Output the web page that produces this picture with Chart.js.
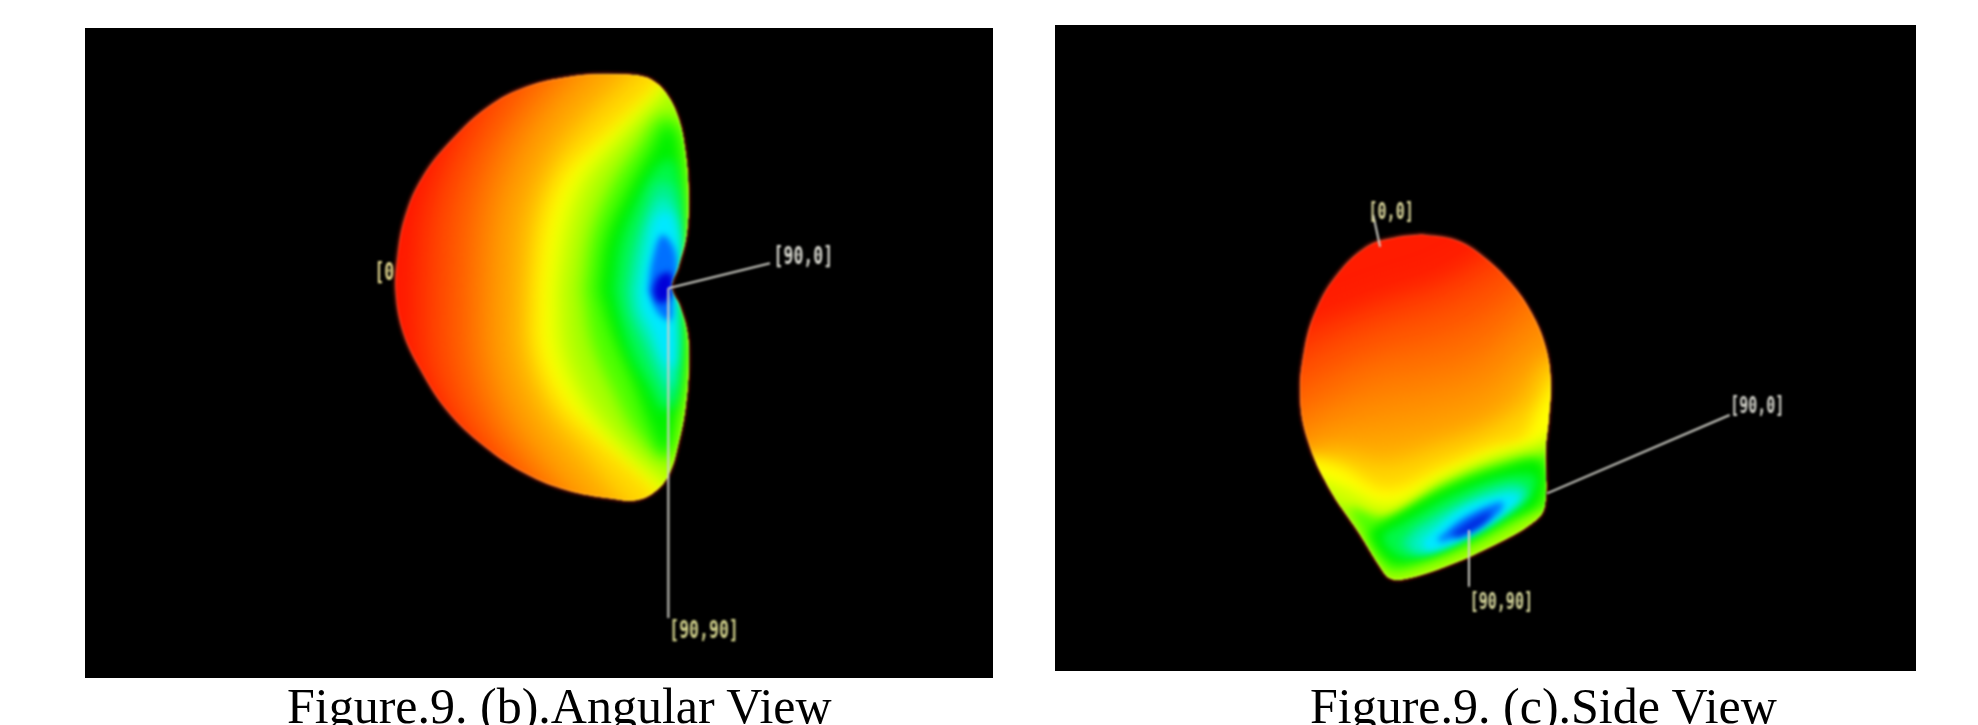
<!DOCTYPE html>
<html><head><meta charset="utf-8">
<script src="https://cdn.jsdelivr.net/npm/chart.js@4"></script>
<style>
html,body{margin:0;padding:0;background:#fff;width:1978px;height:725px;overflow:hidden}
.panel{position:absolute;background:#000}
canvas{position:absolute;left:0;top:0;filter:blur(1px)}
.cap{position:absolute;font-family:"Liberation Serif",serif;font-size:50px;line-height:56px;color:#000;white-space:nowrap}
</style></head><body>
<div class="panel" style="left:85px;top:28px;width:908px;height:650px"><canvas id="b"></canvas></div>
<div class="panel" style="left:1055px;top:25px;width:861px;height:646px"><canvas id="c"></canvas></div>
<div class="cap" style="left:287px;top:678px">Figure.9. (b).Angular View</div>
<div class="cap" style="left:1310px;top:678px">Figure.9. (c).Side View</div>
<script>
/* ---------- Panel (b): Angular view ---------- */
const outlineB=[[860,75],[905,90],[948,130],[985,205],[1005,300],[1015,420],[1010,550],[985,650],[965,712],[990,770],[1012,850],[1016,950],[1005,1080],[985,1180],[960,1265],[920,1320],[860,1350],[780,1345],[650,1320],[530,1272],[405,1190],[290,1080],[212,960],[160,850],[137,730],[142,620],[165,500],[218,380],[305,270],[415,170],[530,110],[660,80],[760,72]];
const baseB=[[-100,-200],[1300,-200],[1300,1600],[-100,1600]];
const levelB0=[[190,720],[205,520],[255,350],[300,250],[350,140],[440,0],[1300,-60],[1300,1500],[440,1350],[400,1250],[330,1150],[255,1040],[200,920]];
const levelB1=[[250,720],[265,500],[320,330],[370,230],[430,100],[520,-60],[1300,-60],[1300,1500],[520,1400],[470,1290],[390,1190],[310,1080],[255,920]];
const levelB1a=[[310,720],[325,500],[380,325],[450,200],[525,80],[610,-60],[1300,-60],[1300,1500],[610,1420],[545,1315],[455,1210],[370,1090],[315,920]];
const levelB2=[[370,720],[385,500],[440,320],[530,170],[620,60],[700,-60],[1300,-60],[1300,1500],[700,1450],[620,1340],[520,1230],[430,1100],[375,920]];
const levelB2a=[[420,720],[437,500],[500,320],[590,175],[690,60],[765,-60],[1300,-60],[1300,1500],[760,1450],[680,1350],[580,1235],[485,1100],[425,920]];
const levelB3=[[470,720],[490,500],[560,320],[650,180],[760,60],[830,-60],[1300,-60],[1300,1500],[820,1450],[740,1360],[640,1240],[540,1100],[475,920]];
const levelB4=[[525,720],[545,510],[610,340],[705,215],[830,90],[900,20],[1300,-60],[1300,1500],[900,1430],[820,1350],[695,1200],[595,1080],[530,910]];
const levelB5=[[565,720],[590,520],[650,370],[760,260],[900,130],[970,50],[1300,-60],[1300,1500],[970,1400],[900,1310],[750,1170],[640,1060],[570,900]];
const levelB5a=[[608,720],[635,530],[690,385],[790,270],[910,150],[980,80],[1300,0],[1300,1450],[980,1350],[915,1290],[785,1170],[685,1055],[618,900]];
const levelB6=[[650,720],[680,540],[730,400],[820,280],[920,170],[985,110],[1300,100],[1300,1400],[990,1310],[930,1270],[820,1170],[730,1050],[665,900]];
const levelB6a=[[700,720],[725,550],[785,405],[862,290],[935,195],[985,215],[1005,300],[1012,420],[1005,550],[980,640],[972,720],[1005,800],[1010,950],[990,1100],[955,1230],[860,1150],[790,1025],[725,875]];
const levelB7=[[745,720],[770,560],[840,410],[905,300],[950,225],[985,270],[992,400],[992,550],[975,640],[972,720],[992,800],[997,950],[978,1100],[945,1210],[900,1130],[850,1000],[785,850]];
const levelB7a=[[790,720],[810,580],[865,445],[918,355],[965,330],[990,400],[990,550],[976,650],[973,720],[988,800],[992,920],[970,1070],[935,1080],[890,1000],[845,920],[810,810]];
const levelB8=[[825,720],[845,600],[885,480],[925,400],[975,420],[990,550],[980,660],[976,720],[988,800],[988,900],[965,1060],[925,1000],[875,890],[835,790]];
const levelB8a=[[848,720],[868,605],[902,490],[940,445],[982,500],[988,600],[979,680],[977,790],[979,900],[965,1010],[935,965],[895,870],[856,785]];
const levelB9=[[872,720],[892,610],[918,505],[958,490],[987,585],[978,690],[978,790],[972,950],[945,935],[908,840],[878,775]];
const levelB10=[[895,722],[905,640],[935,555],[970,590],[981,660],[968,720],[962,810],[925,790]];
const levelB11=[[908,722],[925,680],[960,668],[970,710],[950,755],[922,755]];
const levelsB=[baseB,levelB0,levelB1,levelB1a,levelB2,levelB2a,levelB3,levelB4,levelB5,levelB5a,levelB6,levelB6a,levelB7,levelB7a,levelB8,levelB8a,levelB9,levelB10,levelB11];
const coloursB=['#ff1800','#ff3400','#ff4c00','#ff6400','#ff8000','#ff9800','#ffb000','#ffd800','#ffff00','#d0ff00','#a4ff00','#50ff00','#00f000','#00f848','#00f090','#00f0c8','#00e8ff','#0070ff','#0000d8'];
const blursB=[12,12,12,12,12,12,12,10,9,9,8,7,7,6,6,5,4,3,3];
const axisB1=[[955,715],[1260,640]];
const axisB2=[[955,715],[955,1704]];
const labelTextB=['[90,0]','[90,90]','[0'];
const labelPosB=[[1360,622],[1062,1746],[103,670]];
const labelColB=['#dcdcd4','#d8d890','#e4d890'];
const rangeB={xMin:-795,xMax:1929,yMin:-66,yMax:1884};

/* ---------- Panel (c): Side view ---------- */
const outlineC=[[440,133],[540,150],[620,200],[700,280],[760,370],[800,470],[815,570],[810,680],[800,780],[797,950],[760,1000],[650,1065],[520,1125],[400,1165],[350,1165],[320,1130],[260,1030],[170,890],[110,750],[88,620],[100,480],[130,370],[190,260],[280,170],[360,143]];
const baseC=[[-100,-100],[1000,-100],[1000,1400],[-100,1400]];
const levelC0=[[-40,450],[70,430],[190,380],[340,320],[490,270],[610,200],[680,140],[1000,140],[1000,1400],[-40,1400]];
const levelC1=[[-40,560],[60,520],[180,450],[350,380],[500,330],[640,250],[720,200],[1000,200],[1000,1400],[-40,1400]];
const levelC1a=[[-40,650],[55,610],[165,545],[325,470],[475,430],[620,365],[720,290],[780,240],[1000,250],[1000,1400],[-40,1400]];
const levelC2=[[-40,740],[50,700],[150,640],[300,560],[450,530],[600,480],[720,380],[800,300],[1000,300],[1000,1400],[-40,1400]];
const levelC2a=[[-40,800],[55,760],[165,700],[315,655],[465,625],[620,570],[740,460],[825,390],[1000,390],[1000,1400],[-40,1400]];
const levelC3=[[-40,860],[60,820],[180,760],[330,750],[480,720],[640,660],[760,540],[850,480],[1000,480],[1000,1400],[-40,1400]];
const levelC3a=[[-40,820],[70,810],[190,795],[335,825],[490,778],[640,718],[748,640],[818,520],[1000,520],[1000,1400],[-40,1400]];
const levelC4=[[-40,780],[80,800],[200,830],[340,900],[500,835],[640,775],[735,745],[785,650],[850,560],[1000,560],[1000,1400],[-40,1400]];
const levelC4a=[[40,830],[110,850],[215,890],[345,940],[500,858],[640,795],[760,758],[830,720],[1000,650],[1000,1400],[200,1400],[80,1000]];
const levelC5=[[60,880],[130,900],[230,950],[350,975],[500,880],[640,815],[790,770],[900,750],[1000,750],[1000,1400],[200,1400],[100,1000]];
const levelC5a=[[230,950],[345,985],[500,890],[645,828],[790,795],[900,785],[900,1000],[800,960],[710,1005],[570,1080],[410,1140],[345,1145],[280,1050]];
const levelC6=[[340,990],[500,900],[650,840],[785,815],[785,935],[700,985],[560,1060],[400,1120],[345,1115],[290,1030]];
const levelC6a=[[385,1000],[530,915],[675,860],[770,860],[750,930],[680,980],[560,1052],[410,1105],[360,1090],[330,1040]];
const levelC7=[[420,1010],[560,930],[700,880],[750,900],[700,960],[560,1040],[420,1090],[380,1060]];
const levelC7a=[[430,1030],[560,945],[690,897],[740,910],[672,978],[540,1055],[440,1090],[410,1065]];
const levelC8=[[445,1052],[555,960],[680,915],[725,922],[645,995],[520,1065],[455,1080]];
const levelC9=[[485,1048],[568,980],[675,935],[665,968],[572,1030],[497,1055]];
const levelC10=[[525,1034],[590,988],[645,966],[612,1008],[548,1040]];
const levelsC=[baseC,levelC0,levelC1,levelC1a,levelC2,levelC2a,levelC3,levelC3a,levelC4,levelC4a,levelC5,levelC5a,levelC6,levelC6a,levelC7,levelC7a,levelC8,levelC9,levelC10];
const coloursC=['#ff1c00','#ff3800','#ff5000','#ff6800','#ff8000','#ff9800','#ffb000','#ffd800','#ffff00','#d0ff00','#a4ff00','#50ff00','#00f000','#00f848','#00f090','#00f0c8','#00e8ff','#0070ff','#0028e0'];
const blursC=[14,14,14,14,14,14,12,10,7,6,5,5,5,4,4,4,3,3,3];
const axisC1=[[300,75],[320,170]];
const axisC2=[[805,910],[1335,675]];
const axisC3=[[578,1020],[578,1190]];
const labelTextC=['[0,0]','[90,0]','[90,90]'];
const labelPosC=[[352,70],[1415,650],[672,1240]];
const labelColC=['#e0dca0','#d8d8d0','#dcdca0'];
const rangeC={xMin:-624,xMax:1876,yMin:-495,yMax:1443};

const toPts=a=>a.map(p=>({x:p[0],y:p[1]}));
const closed=a=>toPts(a.concat([a[0]]));

function draw(id,w,h,outline,levels,colours,blurs,axes,texts,pos,cols,range,fontPx){
  const cv=document.getElementById(id);cv.width=w;cv.height=h;cv.style.width=w+'px';cv.style.height=h+'px';
  const datasets=[];
  /* front to back: Chart.js paints the last dataset first */
  axes.forEach(a=>datasets.push({data:toPts(a),showLine:true,fill:false,borderColor:'#d0d0c8',borderWidth:2,pointRadius:0,tension:0}));
  datasets.push({data:closed(outline),showLine:true,fill:false,borderColor:'rgba(255,240,190,0.16)',borderWidth:2,pointRadius:0,tension:0.4,isRim:true});
  for(let i=levels.length-1;i>=0;i--){
    datasets.push({data:closed(levels[i]),showLine:true,fill:'shape',backgroundColor:colours[i],borderWidth:0,borderColor:'transparent',pointRadius:0,tension:0.35,blur:blurs[i]});
  }
  datasets.push({data:closed(outline),showLine:true,fill:false,borderColor:'rgba(80,8,0,0.6)',borderWidth:6,pointRadius:0,tension:0.4,isHalo:true});
  const rimIndex=axes.length;
  const surface={
    id:'surface',
    afterDatasetDraw(ch,args){
      const ds=ch.data.datasets[args.index],ctx=ch.ctx;
      if(ds.isHalo){
        const line=ch.getDatasetMeta(rimIndex).dataset;
        line.updateControlPoints(ch.chartArea,'x');
        ctx.save();
        ctx.beginPath();line.path(ctx);ctx.closePath();ctx.clip();
      }
      const next=ch.data.datasets[args.index-1];
      if(next&&next.blur!==undefined){ctx.filter='blur('+next.blur+'px)';}
      else if(ds.blur!==undefined){ctx.filter='none';ctx.restore();}
    },
    afterDatasetsDraw(ch){
      const ctx=ch.ctx,sx=ch.scales.x,sy=ch.scales.y;
      texts.forEach((t,i)=>{
        ctx.save();
        ctx.translate(sx.getPixelForValue(pos[i][0]),sy.getPixelForValue(pos[i][1]));
        ctx.scale(1,1.5);
        ctx.font='bold '+fontPx+'px "DejaVu Sans Mono"';
        ctx.textAlign='center';ctx.textBaseline='middle';ctx.fillStyle=cols[i];
        ctx.fillText(t,0,0);
        ctx.restore();
      });
    }
  };
  new Chart(cv,{type:'scatter',data:{datasets},
    options:{responsive:false,animation:false,events:[],layout:{padding:0},
      plugins:{legend:{display:false},tooltip:{enabled:false},title:{display:false}},
      scales:{x:{type:'linear',display:false,min:range.xMin,max:range.xMax},
              y:{type:'linear',display:false,reverse:true,min:range.yMin,max:range.yMax}}},
    plugins:[surface]});
}
draw('b',908,650,outlineB,levelsB,coloursB,blursB,[axisB1,axisB2],labelTextB,labelPosB,labelColB,rangeB,16.5);
draw('c',861,646,outlineC,levelsC,coloursC,blursC,[axisC1,axisC2,axisC3],labelTextC,labelPosC,labelColC,rangeC,15);
</script>
</body></html>
